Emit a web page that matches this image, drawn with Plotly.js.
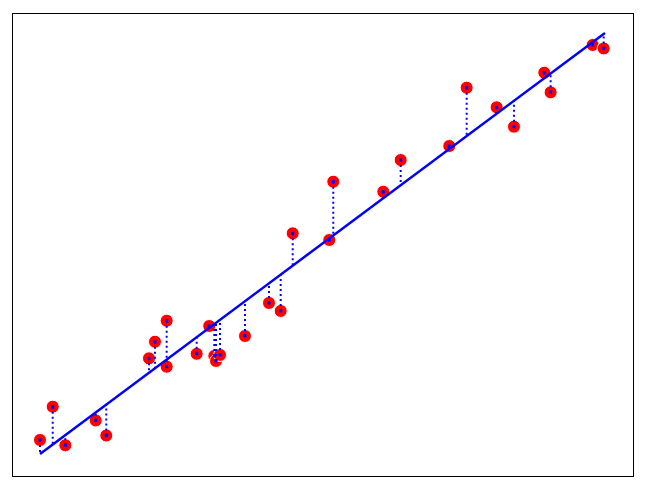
<!DOCTYPE html>
<html>
<head>
<meta charset="utf-8">
<script src="https://cdn.plot.ly/plotly-3.0.1.min.js"></script>
<style>html,body{margin:0;padding:0;background:#fff;}</style>
</head>
<body>
<div id="chart" style="width:647px;height:491px;"></div>
<script>
const xs = [0, 0.225, 0.448, 0.986, 1.173, 1.929, 2.035, 2.242, 2.242, 2.773, 2.995, 3.085, 3.115, 3.186, 3.628, 4.053, 4.260, 4.473, 5.120, 5.191, 6.076, 6.384, 7.244, 7.552, 8.083, 8.389, 8.926, 9.038, 9.782, 9.977];
const ys = [0.333, 1.124, 0.207, 0.796, 0.439, 2.273, 2.667, 3.166, 2.074, 2.380, 3.040, 2.328, 2.209, 2.352, 2.803, 3.587, 3.397, 5.242, 5.083, 6.468, 6.230, 6.983, 7.316, 8.701, 8.235, 7.774, 9.057, 8.591, 9.715, 9.632];
const lineX = [0, 10];
const lineY = [0, 10];

function lineAt(x) {
  return lineY[0] + (lineY[1] - lineY[0]) * (x - lineX[0]) / (lineX[1] - lineX[0]);
}
const rx = [], ry = [];
xs.forEach((x, i) => { rx.push(x, x, null); ry.push(ys[i], lineAt(x), null); });

const traces = [
  {x: xs, y: ys, mode: 'markers', type: 'scatter',
   marker: {color: '#ff0000', size: 13, line: {color: '#ffffff', width: 1}}},
  {x: lineX, y: lineY, mode: 'lines', type: 'scatter',
   line: {color: '#0000ff', width: 2.5}},
  {x: rx, y: ry, mode: 'lines', type: 'scatter',
   line: {color: '#0000ff', width: 2, dash: '2px,3px'}},
  {x: xs, y: ys, mode: 'markers', type: 'scatter',
   marker: {color: '#0000ff', size: 3, symbol: 'square'}}
];

const layout = {
  width: 647, height: 491,
  margin: {l: 13, r: 14, t: 14, b: 15, pad: 0},
  showlegend: false,
  paper_bgcolor: '#ffffff', plot_bgcolor: '#ffffff',
  xaxis: {range: [-0.478, 10.496], showticklabels: false, ticks: '', showgrid: false, zeroline: false,
          showline: true, mirror: true, linecolor: '#000000', linewidth: 1},
  yaxis: {range: [-0.523, 10.451], showticklabels: false, ticks: '', showgrid: false, zeroline: false,
          showline: true, mirror: true, linecolor: '#000000', linewidth: 1}
};
Plotly.newPlot('chart', traces, layout, {displayModeBar: false, staticPlot: true});
</script>
</body>
</html>
